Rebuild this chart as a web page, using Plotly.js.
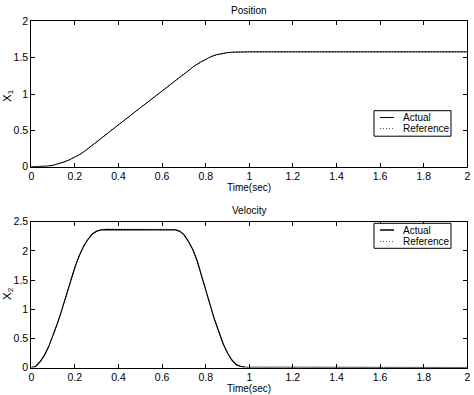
<!DOCTYPE html>
<html>
<head>
<meta charset="utf-8">
<script src="https://cdn.plot.ly/plotly-3.0.1.min.js"></script>
<style>html,body{margin:0;padding:0;background:#fff;}#chart{width:474px;height:395px;}</style>
</head>
<body>
<div id="chart"></div>
<script>
// ---- Data ----
const tPos = [0,0.05,0.075,0.1,0.125,0.15,0.175,0.2,0.225,0.25,0.275,0.3,0.325,0.35,0.375,0.4,0.45,0.5,0.55,0.6,0.65,0.7,0.725,0.75,0.775,0.8,0.825,0.85,0.875,0.9,0.925,0.95,1.0,1.2,1.4,1.6,1.8,2.0];
const posActual = [0,0.003,0.008,0.02,0.04,0.065,0.095,0.128,0.172,0.225,0.28,0.34,0.40,0.46,0.52,0.575,0.69,0.81,0.925,1.04,1.16,1.275,1.335,1.39,1.435,1.48,1.515,1.54,1.558,1.569,1.575,1.578,1.58,1.58,1.58,1.58,1.58,1.58];
const posReference = [0,0.003,0.008,0.02,0.04,0.065,0.095,0.128,0.172,0.225,0.28,0.34,0.40,0.46,0.52,0.575,0.69,0.81,0.925,1.04,1.16,1.275,1.335,1.39,1.435,1.48,1.515,1.54,1.558,1.569,1.575,1.578,1.58,1.58,1.58,1.58,1.58,1.58];

const tVel = [0,0.02,0.04,0.06,0.08,0.10,0.12,0.14,0.16,0.18,0.20,0.22,0.24,0.26,0.28,0.30,0.32,0.34,0.40,0.50,0.60,0.66,0.68,0.70,0.72,0.74,0.76,0.78,0.80,0.82,0.84,0.86,0.88,0.90,0.92,0.94,0.96,0.98,1.00,1.20,1.36,1.40,1.60,1.80,2.00];
const velActual = [0,0.02,0.10,0.21,0.36,0.55,0.76,0.99,1.24,1.49,1.72,1.92,2.08,2.20,2.29,2.34,2.36,2.365,2.365,2.365,2.365,2.36,2.34,2.28,2.17,2.03,1.84,1.60,1.34,1.08,0.83,0.60,0.41,0.25,0.13,0.05,0.02,0.008,0.006,0.006,0.006,0,0,0,0];
const velReference = [0,0.02,0.10,0.21,0.36,0.55,0.76,0.99,1.24,1.49,1.72,1.92,2.08,2.20,2.29,2.34,2.365,2.375,2.375,2.375,2.375,2.37,2.34,2.28,2.17,2.03,1.84,1.60,1.34,1.08,0.83,0.60,0.41,0.25,0.13,0.05,0.02,0.005,0,0,0,0,0,0,0];

const xTicks = [0,0.2,0.4,0.6,0.8,1,1.2,1.4,1.6,1.8,2];
const xTickText = ['0','0.2','0.4','0.6','0.8','1','1.2','1.4','1.6','1.8','2'];
const y1Ticks = [0,0.5,1,1.5,2];
const y1TickText = ['0','0.5','1','1.5','2'];
const y2Ticks = [0,0.5,1,1.5,2,2.5];
const y2TickText = ['0','0.5','1','1.5','2','2.5'];
const seriesNames = ['Actual','Reference'];
const panelTitles = ['Position','Velocity'];
const xTitle = 'Time(sec)';
const yTitles = ['X<sub>1</sub>','X<sub>2</sub>'];

// ---- Layout helpers ----
const W = 474, H = 395;
const px = v => v / W;
const py = v => 1 - v / H;
const FONT = '"Liberation Sans", Arial, Helvetica, sans-serif';
const DOT = '1px,2px';

const traces = [
  {x: tPos, y: posReference, xaxis:'x', yaxis:'y', mode:'lines', name: seriesNames[1], line:{color:'#000', width:1, dash:DOT}},
  {x: tPos, y: posActual, xaxis:'x', yaxis:'y', mode:'lines', name: seriesNames[0], line:{color:'#000', width:1}},
  {x: tVel, y: velReference, xaxis:'x2', yaxis:'y2', mode:'lines', name: seriesNames[1], line:{color:'#000', width:1, dash:DOT}},
  {x: tVel, y: velActual, xaxis:'x2', yaxis:'y2', mode:'lines', name: seriesNames[0], line:{color:'#000', width:1.2}}
];

function axisBase(extra) {
  return Object.assign({
    showline:true, linecolor:'#000', linewidth:1, mirror:'ticks',
    ticks:'inside', ticklen:4, tickwidth:1, tickcolor:'#000',
    showgrid:false, zeroline:false, fixedrange:true,
    tickfont:{family:FONT, size:10.5, color:'#000'}, tickmode:'array'
  }, extra);
}

const xDom = [px(31.3), px(467.3)];
const layout = {
  width: W, height: H,
  margin: {l:0, r:0, t:0, b:0},
  paper_bgcolor:'#fff', plot_bgcolor:'#fff',
  showlegend:false,
  font:{family:FONT, size:10, color:'#000'},
  xaxis: axisBase({domain:xDom, range:[0,2], anchor:'y', tickvals:xTicks, ticktext:xTickText}),
  yaxis: axisBase({domain:[py(166.7), py(21.3)], range:[0,2], anchor:'x', tickvals:y1Ticks, ticktext:y1TickText}),
  xaxis2: axisBase({domain:xDom, range:[0,2], anchor:'y2', tickvals:xTicks, ticktext:xTickText}),
  yaxis2: axisBase({domain:[py(367.6), py(221.8)], range:[0,2.5], anchor:'x2', tickvals:y2Ticks, ticktext:y2TickText}),
  annotations: [],
  shapes: []
};

const cx = (31.3 + 467.3) / 2;
function ann(text, x, y, opts) {
  layout.annotations.push(Object.assign({
    text, x: px(x), y: py(y), xref:'paper', yref:'paper', showarrow:false,
    xanchor:'center', yanchor:'middle', font:{family:FONT, size:10, color:'#000'}
  }, opts || {}));
}
ann(panelTitles[0], cx, 10.5);
ann(panelTitles[1], cx, 211);
ann(xTitle, cx, 187.5);
ann(xTitle, cx, 388);
ann(yTitles[0], 8, 95, {textangle:-90, font:{family:FONT, size:11.5, color:'#000'}});
ann(yTitles[1], 8, 293, {textangle:-90, font:{family:FONT, size:11.5, color:'#000'}});

// custom legends
function legend(x0, x1, y0, y1, yA, yR, wA) {
  layout.shapes.push({type:'rect', xref:'paper', yref:'paper', x0:px(x0), x1:px(x1), y0:py(y1), y1:py(y0), line:{color:'#000', width:1}, fillcolor:'#fff', layer:'above'});
  layout.shapes.push({type:'line', xref:'paper', yref:'paper', x0:px(380), x1:px(394), y0:py(yA), y1:py(yA), line:{color:'#000', width:wA}});
  layout.shapes.push({type:'line', xref:'paper', yref:'paper', x0:px(380), x1:px(394), y0:py(yR), y1:py(yR), line:{color:'#555', width:1, dash:DOT}});
  ann(seriesNames[0], 400.5, yA, {xanchor:'left'});
  ann(seriesNames[1], 400.5, yR, {xanchor:'left'});
}
legend(374, 451, 110.7, 136.2, 117.5, 128.5, 1);
legend(374, 451, 223.3, 248.3, 230, 241.5, 1.5);

Plotly.newPlot('chart', traces, layout, {displayModeBar:false, staticPlot:true});
</script>
</body>
</html>
